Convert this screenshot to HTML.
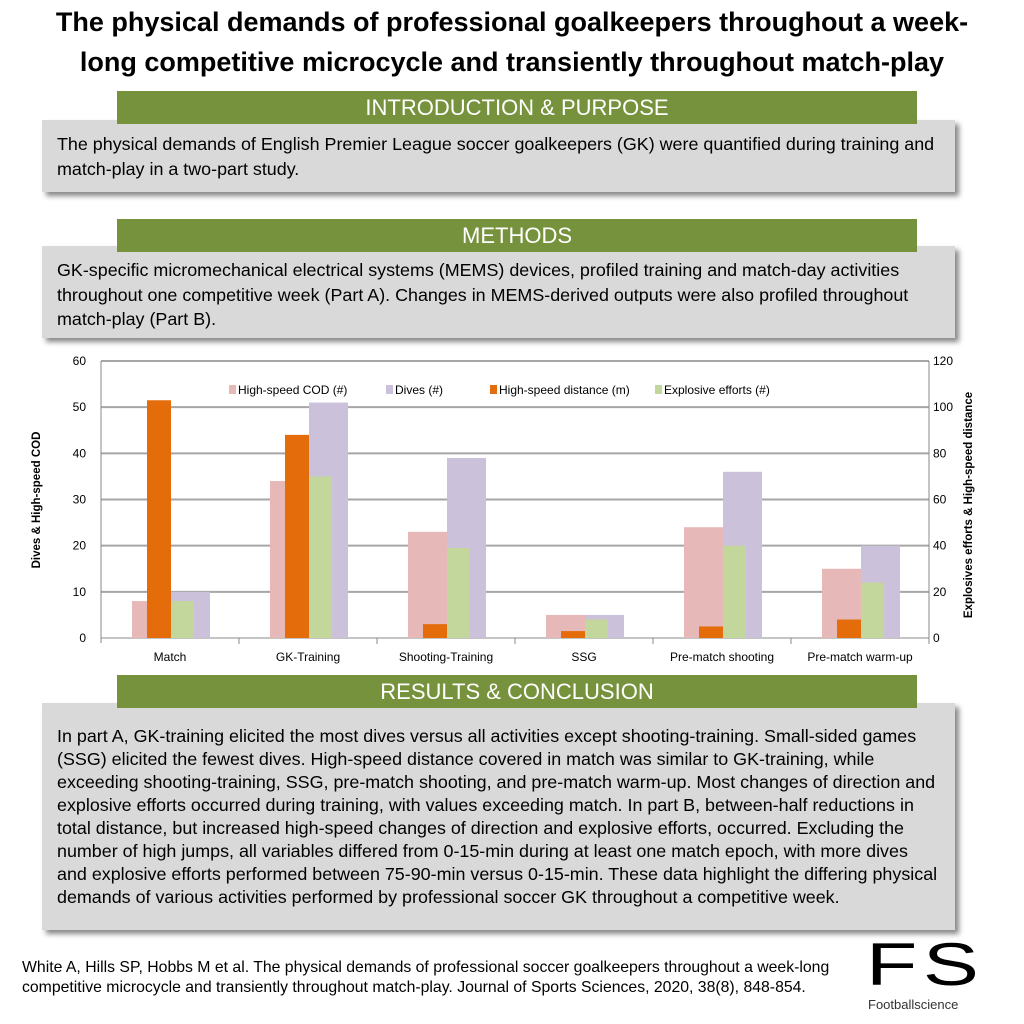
<!DOCTYPE html>
<html><head><meta charset="utf-8"><style>
body{margin:0;width:1024px;height:1024px;background:#fff;font-family:"Liberation Sans",sans-serif;position:relative;overflow:hidden}
.t{position:absolute;left:0;width:1024px;text-align:center;font-weight:bold;font-size:27px;line-height:40px;top:2px;color:#000}
.ban{position:absolute;left:117px;width:800px;height:33px;background:#76923c;color:#fff;font-size:22px;line-height:33px;text-align:center}
.box{position:absolute;left:42px;width:913px;background:#d9d9d9;box-shadow:4px 4px 5px #888;font-size:17.9px;line-height:24.5px;color:#000;box-sizing:border-box;white-space:nowrap}
.cite{position:absolute;left:22px;top:958px;font-size:15.8px;line-height:20px;color:#000;white-space:nowrap}
</style></head><body>
<div class="t">The physical demands of professional goalkeepers throughout a week-<br>long competitive microcycle and transiently throughout match-play</div>
<div class="box" style="top:120px;height:72px;padding:12px 15px">The physical demands of English Premier League soccer goalkeepers (GK) were quantified during training and<br>match-play in a two-part study.</div>
<div class="ban" style="top:91px">INTRODUCTION &amp; PURPOSE</div>
<div class="box" style="top:246px;height:92px;padding:12px 15px">GK-specific micromechanical electrical systems (MEMS) devices, profiled training and match-day activities<br>throughout one competitive week (Part A). Changes in MEMS-derived outputs were also profiled throughout<br>match-play (Part B).</div>
<div class="ban" style="top:219px">METHODS</div>
<div class="box" style="top:703px;height:227px;padding:22px 15px 0 15px;line-height:23px">In part A, GK-training elicited the most dives versus all activities except shooting-training. Small-sided games<br>(SSG) elicited the fewest dives. High-speed distance covered in match was similar to GK-training, while<br>exceeding shooting-training, SSG, pre-match shooting, and pre-match warm-up. Most changes of direction and<br>explosive efforts occurred during training, with values exceeding match. In part B, between-half reductions in<br>total distance, but increased high-speed changes of direction and explosive efforts, occurred. Excluding the<br>number of high jumps, all variables differed from 0-15-min during at least one match epoch, with more dives<br>and explosive efforts performed between 75-90-min versus 0-15-min. These data highlight the differing physical<br>demands of various activities performed by professional soccer GK throughout a competitive week.</div>
<div class="ban" style="top:675px">RESULTS &amp; CONCLUSION</div>
<svg id="chart" style="position:absolute;left:0;top:345px" width="1024" height="330"></svg>
<div class="cite">White A, Hills SP, Hobbs M et al. The physical demands of professional soccer goalkeepers throughout a week-long<br>competitive microcycle and transiently throughout match-play. Journal of Sports Sciences, 2020, 38(8), 848-854.</div>
<div style="position:absolute;left:866px;top:935px;font-size:60px;line-height:60px;font-weight:normal;letter-spacing:4px;transform:scaleX(1.4);transform-origin:left">FS</div>
<div style="position:absolute;left:868px;top:997px;font-size:13px;color:#333">Footballscience</div>
<script>
const categories=["Match","GK-Training","Shooting-Training","SSG","Pre-match shooting","Pre-match warm-up"];
const codVals=[8,34,23,5,24,15];
const diveVals=[10,51,39,5,36,20];
const hsdVals=[103,88,6,3,5,8];
const explVals=[16,70,39,8,40,24];
const leftTicks=[0,10,20,30,40,50,60];
const rightTicks=[0,20,40,60,80,100,120];
const NS="http://www.w3.org/2000/svg";
const svg=document.getElementById('chart');
const X0=101,X1=929,Y0=293,Y1=16;
const yL=v=>Y0-(v/60)*(Y0-Y1), yR=v=>Y0-(v/120)*(Y0-Y1);
const cw=(X1-X0)/categories.length, cx=i=>X0+cw*(i+0.5);
function mk(t,a,txt){const e=document.createElementNS(NS,t);for(const k in a)e.setAttribute(k,a[k]);if(txt!==undefined)e.textContent=txt;svg.appendChild(e);return e;}
leftTicks.forEach((v,i)=>{
 const g=mk('line',{x1:X0,x2:X1,y1:yL(v),y2:yL(v),stroke:v?'#a6a6a6':'#888','stroke-width':v?2:1});
 
 
 const t=mk('text',{x:X0-15,y:yL(v)+4,'text-anchor':'end','font-size':12},v);
 
 
 const r=mk('text',{x:X1+4,y:yR(rightTicks[i])+4,'font-size':12},rightTicks[i]);
 
 
});
mk('line',{x1:X0,x2:X0,y1:Y1,y2:Y0+5,stroke:'#888'});
mk('line',{x1:X1,x2:X1,y1:Y1,y2:Y0+5,stroke:'#888'});
function bar(x,w,y,col,name){const b=mk('rect',{x:x,y:y,width:w,height:Y0-y,fill:col});}
categories.forEach((c,i)=>{
 const m=cx(i);
 mk('line',{x1:X0+cw*(i+1),x2:X0+cw*(i+1),y1:Y0,y2:Y0+6,stroke:'#888'});
 bar(m-38,39,yL(codVals[i]),'#e6b9b8','bar-cod');
 bar(m+1,39,yL(diveVals[i]),'#ccc1da','bar-dives');
 bar(m-23,24,yR(hsdVals[i]),'#e46c0a','bar-hsd');
 bar(m+1,23,yR(explVals[i]),'#c3d69b','bar-explosive');
 const t=mk('text',{x:m,y:Y0+23,'text-anchor':'middle','font-size':12},c);
 
 
});
const leg=[["High-speed COD (#)",'#e6b9b8',229],["Dives (#)",'#ccc1da',386],["High-speed distance (m)",'#e46c0a',490],["Explosive efforts (#)",'#c3d69b',655]];
leg.forEach(l=>{const g=mk('rect',{x:l[2],y:40,width:7,height:9,fill:l[1]});
 const t=mk('text',{x:l[2]+9,y:49,'font-size':12},l[0]);});
const ya=mk('text',{transform:'translate(40,155) rotate(-90)','text-anchor':'middle','font-size':11.5,'font-weight':'bold'},'Dives & High-speed COD');

const yb=mk('text',{transform:'translate(972,160) rotate(-90)','text-anchor':'middle','font-size':11.5,'font-weight':'bold'},'Explosives efforts & High-speed distance');

</script>
</body></html>
